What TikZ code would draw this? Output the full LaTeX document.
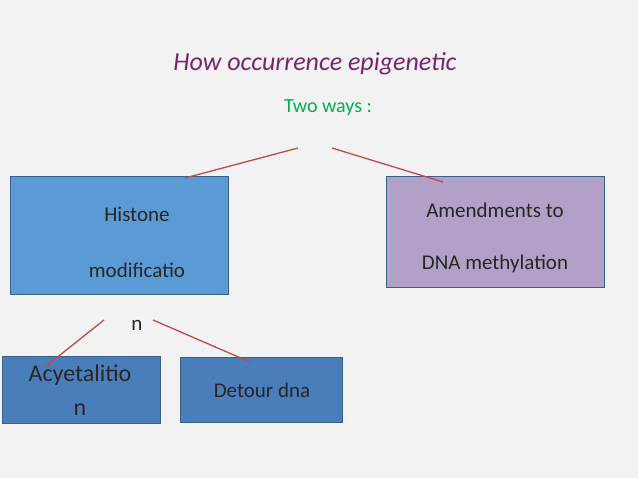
\documentclass[tikz,border=0pt]{standalone}
\usepackage{fontspec}
\setmainfont{Carlito}
\definecolor{bgc}{HTML}{F2F2F2}
\definecolor{titlec}{HTML}{7B2373}
\definecolor{greenc}{HTML}{00B050}
\definecolor{linec}{HTML}{BE4B48}
\definecolor{bluebox}{HTML}{5B9BD5}
\definecolor{darkbox}{HTML}{4A7EBB}
\definecolor{purplebox}{HTML}{B2A1C7}
\definecolor{edgec}{HTML}{3A5F8A}
\begin{document}
\begin{tikzpicture}[
        x=1pt, y=-1pt,
        box/.style={draw=edgec, line width=1pt, anchor=north west, inner sep=0pt},
        label/.style={font=\fontsize{21}{24}\selectfont, text=black!85},
        link/.style={draw=linec, line width=1.3pt},
    ]
        % Background
        \fill[bgc] (0,0) rectangle (638,478);
        \useasboundingbox (0,0) rectangle (638,478);

        % Title texts
        \node[text=titlec, font=\fontsize{26}{30}\selectfont\itshape\rmfamily] (title) at (315,64) {How occurrence epigenetic};
        \node[text=greenc, font=\fontsize{20}{24}\selectfont] (ways) at (328,108) {Two ways :};

        % Boxes
        \node[box, fill=bluebox, minimum width=218, minimum height=118] (histone) at (10,176) {};
        \node[box, fill=purplebox, minimum width=218, minimum height=111] (amend) at (386,176) {};
        \node[box, fill=darkbox, minimum width=158, minimum height=67] (acet) at (2,356) {};
        \node[box, fill=darkbox, minimum width=162, minimum height=65] (detour) at (180,357) {};

        % Box texts
        \node[label] (histA) at (137,214) {Histone};
        \node[label] (histB) at (137,270) {modificatio};
        \node[label] (histC) at (137,325) {n};
        \node[label] (amA) at (495,210) {Amendments to};
        \node[label] (amB) at (495,264) {DNA methylation};
        \node[label, font=\fontsize{24}{28}\selectfont] (acA) at (80,375) {Acyetalitio};
        \node[label, font=\fontsize{24}{28}\selectfont] (acB) at (80,410) {n};
        \node[label] (det) at (262,390) {Detour dna};

        % Line ends
        \coordinate (t1) at (298,148);
        \coordinate (t2) at (332,148);
        \coordinate (h1) at (185,178);
        \coordinate (a1) at (443,182);
        \coordinate (n1) at (104,320);
        \coordinate (n2) at (153,320);
        \coordinate (c1) at (45,367);
        \coordinate (d1) at (250,362);

        % Connectors
        \draw[link] (t1) -- (h1);
        \draw[link] (t2) -- (a1);
        \draw[link] (n1) -- (c1);
        \draw[link] (n2) -- (d1);
    \end{tikzpicture}
\end{document}
